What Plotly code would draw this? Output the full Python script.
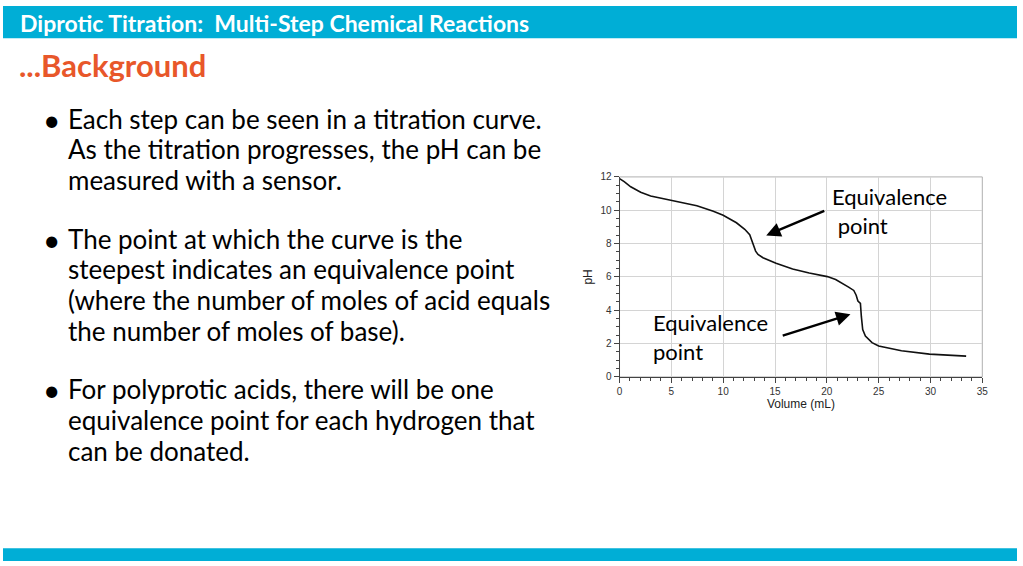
import plotly.graph_objects as go

W, H = 1023, 566

# titration curve
volume_ml = [0, 0.45, 1.08, 2.04, 3.0, 4.9, 7.46, 9.05, 10.0, 11.28, 12.08, 12.56,
             12.88, 13.13, 13.36, 13.84, 15.1, 16.7, 18.3, 20.05, 20.85, 21.5, 22.1,
             22.6, 22.83, 23.0, 23.24, 23.33, 23.46, 23.72, 24.36, 25.0, 27.2, 29.9, 33.44]
ph = [11.9, 11.72, 11.41, 11.08, 10.86, 10.59, 10.27, 9.94, 9.7, 9.25, 8.86, 8.53,
      8.04, 7.55, 7.35, 7.15, 6.82, 6.47, 6.23, 6.02, 5.84, 5.63, 5.39,
      5.19, 4.9, 4.55, 4.41, 3.63, 2.84, 2.45, 2.06, 1.86, 1.57, 1.37, 1.25]

x_ticks = [0, 5, 10, 15, 20, 25, 30, 35]
y_ticks = [0, 2, 4, 6, 8, 10, 12]

header = "Diprotic Titration:  Multi-Step Chemical Reactions"
subtitle = "...Background"
bullets = [
    ["Each step can be seen in a titration curve.",
     "As the titration progresses, the pH can be",
     "measured with a sensor."],
    ["The point at which the curve is the",
     "steepest indicates an equivalence point",
     "(where the number of moles of acid equals",
     "the number of moles of base)."],
    ["For polyprotic acids, there will be one",
     "equivalence point for each hydrogen that",
     "can be donated."],
]

BLUE = "#00AED6"
ORANGE = "#E8572A"
BODY_FONT = "Lato"


def px(x):
    return x / W


def py(y):
    return 1 - y / H


fig = go.Figure()
fig.add_trace(go.Scatter(x=volume_ml, y=ph, mode="lines",
                         line=dict(color="#111111", width=1.6),
                         hoverinfo="skip", showlegend=False))

annotations = [
    dict(text=f"<b>{header}</b>", x=px(15), y=py(17), xref="paper", yref="paper",
         xanchor="left", yanchor="middle", showarrow=False,
         font=dict(family=BODY_FONT, size=23, color="white")),
    dict(text=f"<b>{subtitle}</b>", x=px(14), y=py(60), xref="paper", yref="paper",
         xanchor="left", yanchor="middle", showarrow=False,
         font=dict(family=BODY_FONT, size=31, color=ORANGE)),
]

line_y = 115
for block in bullets:
    annotations.append(dict(text="\u2022", x=px(38), y=py(line_y), xref="paper", yref="paper",
                            xanchor="left", yanchor="middle", showarrow=False,
                            font=dict(family=BODY_FONT, size=30, color="black")))
    for line in block:
        annotations.append(dict(text=line, x=px(64), y=py(line_y), xref="paper", yref="paper",
                                xanchor="left", yanchor="middle", showarrow=False,
                                font=dict(family=BODY_FONT, size=26, color="black")))
        line_y += 31.3
    line_y += 28.5

# arrows and labels on the chart
annotations += [
    dict(x=14.15, y=8.49, ax=19.9, ay=10.0, xref="x", yref="y", axref="x", ayref="y",
         text="", showarrow=True, arrowhead=2, arrowsize=1.2, arrowwidth=2.4, arrowcolor="black"),
    dict(x=22.28, y=3.76, ax=15.6, ay=2.45, xref="x", yref="y", axref="x", ayref="y",
         text="", showarrow=True, arrowhead=2, arrowsize=1.2, arrowwidth=2.4, arrowcolor="black"),
    dict(text="Equivalence<br>&nbsp;point", x=px(834), y=py(178), xref="paper", yref="paper",
         xanchor="left", yanchor="top", align="left", showarrow=False,
         font=dict(family=BODY_FONT, size=22, color="black")),
    dict(text="Equivalence<br>point", x=px(654), y=py(307), xref="paper", yref="paper",
         xanchor="left", yanchor="top", align="left", showarrow=False,
         font=dict(family=BODY_FONT, size=22, color="black")),
]

shapes = [
    dict(type="rect", xref="paper", yref="paper", x0=0, x1=1, y0=py(33), y1=1,
         fillcolor=BLUE, line_width=0, layer="below"),
    dict(type="rect", xref="paper", yref="paper", x0=0, x1=1, y0=0, y1=py(553),
         fillcolor=BLUE, line_width=0, layer="below"),
    dict(type="rect", xref="x domain", yref="y domain", x0=0, x1=1, y0=0, y1=1,
         line=dict(color="#b0b0b0", width=1), layer="below"),
]

axis_font = dict(family="Liberation Sans", size=10, color="#333333")
title_font = dict(family="Liberation Sans", size=12, color="#222222")

fig.update_layout(
    width=W, height=H,
    margin=dict(l=0, r=0, t=0, b=0),
    paper_bgcolor="white", plot_bgcolor="white",
    showlegend=False,
    annotations=annotations,
    shapes=shapes,
    xaxis=dict(domain=[px(622), px(988)], range=[0, 35], tickvals=x_ticks,
               showgrid=True, gridcolor="#d4d4d4", gridwidth=1, zeroline=False,
               showline=True, linecolor="#444444", linewidth=1,
               ticks="outside", ticklen=5, tickcolor="#444444", tickfont=axis_font,
               minor=dict(dtick=1, ticks="outside", ticklen=3, tickcolor="#444444", showgrid=False),
               title=dict(text="Volume (mL)", font=title_font, standoff=0)),
    yaxis=dict(domain=[py(378.3), py(174.3)], range=[0, 12], tickvals=y_ticks,
               showgrid=True, gridcolor="#d4d4d4", gridwidth=1, zeroline=False,
               showline=True, linecolor="#444444", linewidth=1,
               ticks="outside", ticklen=5, tickcolor="#444444", tickfont=axis_font,
               minor=dict(dtick=0.5, ticks="outside", ticklen=3, tickcolor="#444444", showgrid=False),
               title=dict(text="pH", font=title_font, standoff=5)),
)

fig.write_html("out.html", config={"displayModeBar": False},
               post_script="document.body.style.margin='0';document.body.style.overflow='hidden';")
